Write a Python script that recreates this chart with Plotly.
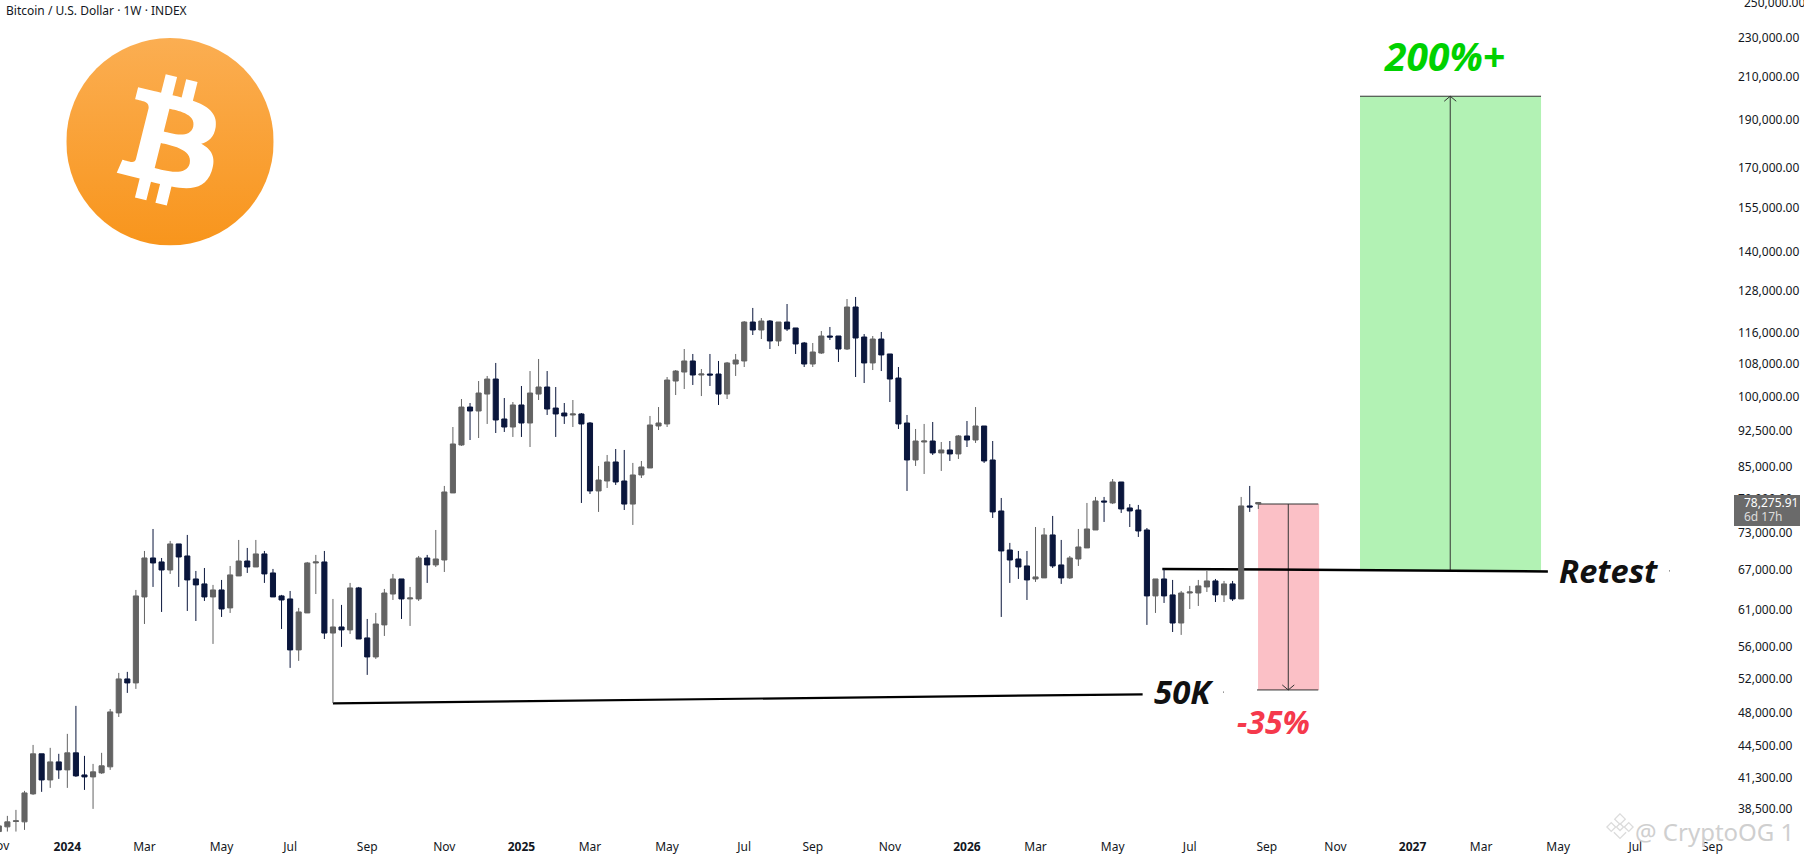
import base64
import numpy as np
import pandas as pd
import plotly.graph_objects as go

# weekly candles, first one is the week of 2023-11-06
first_week = pd.Timestamp("2023-11-06")

open_ = [36480, 36880, 37340, 37310, 39810, 43690, 41120, 42880, 42090, 43790,
         41600, 41410, 41800, 42390, 48040, 51980, 51500, 62870, 68820, 68190,
         66930, 71100, 69140, 65550, 64800, 62870, 63900, 61290, 66010, 68340,
         67400, 69470, 66470, 63020, 62580, 55600, 60580, 68030, 68190, 57820,
         58640, 58240, 64200, 57170, 54700, 58920, 63300, 65550, 62580, 62580,
         68820, 67720, 68500, 80030, 89450, 97680, 96790, 100670, 104240, 95010,
         93260, 98150, 94130, 100670, 102330, 97450, 96340, 95900, 96120, 94130,
         80400, 82280, 85990, 82280, 77990, 83440, 84800, 93480, 93920, 103760,
         105950, 108700, 105220, 105460, 105460, 100670, 107940, 108700, 118980, 116800,
         119260, 113860, 118980, 117350, 113330, 107940, 110730, 115180, 115180, 111760,
         123200, 114910, 108200, 114380, 110480, 104480, 94130, 86390, 90070, 90280,
         87810, 88420, 87610, 91340, 90490, 93480, 86390, 76750, 70110, 68660,
         67560, 65550, 65710, 72600, 67720, 65710, 68660, 70440, 73440, 78550,
         78190, 82090, 77290, 76930, 73440, 63020, 65550, 63170, 59180, 63450,
         63450, 64350, 65250, 63170, 64800, 62580, 77650, 78000]
high = [37000, 37830, 38360, 40090, 44600, 43690, 44300, 43690, 45760, 48830,
        43480, 42680, 43790, 48480, 52710, 52840, 63900, 69950, 73610, 68820,
        71600, 71100, 72600, 66780, 67240, 64650, 65400, 67560, 71760, 70440,
        71760, 69950, 67090, 63170, 63750, 61290, 68190, 69310, 69950, 62580,
        61720, 64950, 64350, 59740, 60580, 64050, 66320, 65550, 64350, 69140,
        69310, 73440, 81340, 93260, 99520, 98600, 103760, 104980, 108200, 99750,
        98830, 102570, 106190, 109200, 106190, 102330, 98600, 99290, 96340, 94350,
        85200, 87400, 88620, 88420, 85800, 86190, 95680, 97680, 104730, 106440,
        111760, 110480, 106690, 110480, 108700, 108450, 110480, 119260, 122930, 120090,
        119540, 118980, 124060, 117350, 113600, 113330, 116530, 117620, 115180, 125510,
        126100, 115710, 115180, 116260, 110480, 107190, 95900, 92830, 93920, 94350,
        90070, 90280, 91550, 94570, 97680, 93480, 90280, 79100, 71270, 69950,
        69950, 73950, 73780, 75870, 71760, 69140, 73610, 78190, 79290, 79290,
        82660, 82090, 77990, 77830, 73780, 65550, 67090, 65400, 63750, 64500,
        65400, 66780, 65550, 65250, 65250, 79290, 81340, 78280]
low = [36300, 36480, 36480, 36620, 39720, 40000, 40370, 41220, 40370, 41410,
       40180, 38450, 41700, 42090, 47590, 50320, 50790, 59050, 64350, 60720,
       66320, 64350, 60860, 59460, 62290, 56380, 60020, 60580, 66010, 66470,
       67400, 64950, 62870, 58370, 53330, 54200, 60580, 63300, 57030, 49160,
       55990, 57700, 57030, 52470, 54450, 57430, 62430, 59740, 58780, 62290,
       64950, 67400, 66620, 80030, 89250, 90490, 90910, 93920, 91970, 92190,
       91130, 91130, 89030, 99290, 95900, 91130, 93920, 93260, 78190, 79840,
       76580, 80960, 81530, 76930, 74300, 82850, 84800, 92610, 93260, 100440,
       101850, 102810, 100200, 102570, 98150, 99520, 104980, 107190, 115450, 114380,
       111760, 112520, 116530, 110480, 107190, 107190, 110480, 114120, 108450, 111500,
       104730, 103280, 106440, 106190, 98830, 92830, 80400, 85200, 83630, 87400,
       84220, 86190, 86590, 89030, 89870, 85800, 75520, 60020, 64950, 65550,
       62430, 65100, 65710, 67240, 64800, 65550, 67560, 70440, 73440, 74820,
       77990, 76400, 73950, 72260, 58920, 60580, 62000, 57960, 57570, 61140,
       61570, 63600, 62140, 62140, 62290, 62580, 76580, 77110]
close = [36960, 37310, 37400, 39900, 43690, 41120, 42880, 42090, 43790, 41510,
         41410, 41900, 42490, 48150, 51980, 51500, 63020, 68820, 68030, 66930,
         71100, 68980, 65400, 64650, 62870, 63900, 61140, 66170, 68340, 67400,
         69470, 66320, 62870, 62430, 55600, 60720, 68030, 68190, 57820, 58640,
         58240, 64200, 57030, 54700, 59050, 63450, 65550, 62580, 62720, 68820,
         67720, 68660, 80210, 89660, 97680, 96790, 100910, 104240, 94790, 93260,
         98150, 94130, 100910, 102330, 97230, 96120, 95680, 96120, 93920, 80400,
         82470, 85990, 82090, 77990, 83440, 85000, 93700, 94130, 104000, 106190,
         108700, 105220, 105460, 105220, 100670, 108200, 108950, 118980, 116800, 119260,
         113860, 118980, 117070, 113070, 107940, 110990, 115180, 114910, 111760, 123200,
         114650, 108200, 114380, 110230, 104240, 93920, 86390, 90280, 90280, 87810,
         88420, 87610, 91340, 90490, 93480, 86190, 76580, 69950, 68500, 67400,
         65400, 65860, 72600, 67560, 65710, 68820, 70600, 73610, 78550, 78370,
         82090, 77110, 76750, 73270, 63020, 65550, 63020, 59180, 63450, 63600,
         64500, 65250, 63170, 64800, 62580, 77650, 77470, 78275.91]

# 250,000 sits on the top edge, plotly drops it as a tick so it is an annotation below
top_price = 250000
price_ticks = [230000, 210000, 190000, 170000, 155000, 140000, 128000, 116000, 108000,
               100000, 92500, 85000, 79000, 73000, 67000, 61000, 56000, 52000, 48000,
               44500, 41300, 38500]
date_ticks = ["2024-01-01", "2024-03-04", "2024-05-06", "2024-07-01", "2024-09-02", "2024-11-04",
              "2025-01-06", "2025-03-03", "2025-05-05", "2025-07-07", "2025-09-01", "2025-11-03",
              "2026-01-05", "2026-03-02", "2026-05-04", "2026-07-06", "2026-09-07", "2026-11-02",
              "2027-01-04", "2027-03-01", "2027-05-03", "2027-07-05", "2027-09-06"]
date_labels = ["<b>2024</b>", "Mar", "May", "Jul", "Sep", "Nov",
               "<b>2025</b>", "Mar", "May", "Jul", "Sep", "Nov",
               "<b>2026</b>", "Mar", "May", "Jul", "Sep", "Nov",
               "<b>2027</b>", "Mar", "May", "Jul", "Sep"]

# drawn levels
drop_top, drop_bottom = 78000, 50670
gain_top, gain_bottom = 200900, 66810
retest_start, retest_end = 67100, 66700
low_line_start, low_line_end = 49120, 50160

UP = "#636363"
DOWN = "#0a163c"
INK = "#131722"
PLOT_W, PLOT_H = 1737, 836
WEEK_PX = 8.568


def week(n):
    # date n weeks after the first candle
    return first_week + pd.Timedelta(days=float(n) * 7)


def ly(price):
    # annotations on a log axis want the exponent
    return float(np.log10(price))


dates = [week(i) for i in range(len(open_))]

fig = go.Figure(go.Candlestick(
    x=dates, open=open_, high=high, low=low, close=close,
    increasing=dict(line=dict(color=UP, width=1), fillcolor=UP),
    decreasing=dict(line=dict(color=DOWN, width=1), fillcolor=DOWN),
    whiskerwidth=0, showlegend=False, hoverinfo="skip",
))

shapes = [
    # pink / green zones
    dict(type="rect", x0=week(146.97), x1=week(154.1), y0=drop_bottom, y1=drop_top,
         fillcolor="#fbc0c6", line_width=0),
    dict(type="rect", x0=week(158.87), x1=week(180.0), y0=gain_bottom, y1=gain_top,
         fillcolor="#b2f2b4", line_width=0),
    dict(type="line", x0=week(146.97), x1=week(154.0), y0=drop_top, y1=drop_top,
         line=dict(color="#333333", width=1)),
    dict(type="line", x0=week(146.85), x1=week(154.0), y0=drop_bottom, y1=drop_bottom,
         line=dict(color="#333333", width=1)),
    dict(type="line", x0=week(150.5), x1=week(150.5), y0=drop_bottom, y1=drop_top,
         line=dict(color="#333333", width=1)),
    dict(type="line", x0=week(158.87), x1=week(180.0), y0=gain_top, y1=gain_top,
         line=dict(color="#333333", width=1)),
    dict(type="line", x0=week(169.4), x1=week(169.4), y0=gain_bottom, y1=gain_top,
         line=dict(color="#333333", width=1)),
    # support lines
    dict(type="line", x0=week(135.8), x1=week(180.8), y0=retest_start, y1=retest_end,
         line=dict(color="#000000", width=2.5)),
    dict(type="line", x0=week(39), x1=week(133.5), y0=low_line_start, y1=low_line_end,
         line=dict(color="#000000", width=2.2)),
]
for s in shapes:
    s.update(layer="below")

# arrow heads
shapes.append(dict(type="path", xsizemode="pixel", ysizemode="pixel",
                   xanchor=week(150.5), yanchor=drop_bottom,
                   path="M -6 5 L 0 0 L 6 5", line=dict(color="#333333", width=1), layer="above"))
shapes.append(dict(type="path", xsizemode="pixel", ysizemode="pixel",
                   xanchor=week(169.4), yanchor=gain_top,
                   path="M -6 -5 L 0 0 L 6 -5", line=dict(color="#333333", width=1), layer="above"))

# last price tag
shapes.append(dict(type="rect", xref="paper", x0=1734 / PLOT_W, x1=1800 / PLOT_W,
                   y0=74120, y1=79640, fillcolor="#6a6a6a", line_width=0, layer="above"))

# two stray specks left over next to the labels
for speck_x, speck_price in [(1223, 50420), (1669, 66800)]:
    shapes.append(dict(type="rect", xref="paper", x0=speck_x / PLOT_W, x1=(speck_x + 1) / PLOT_W,
                       y0=speck_price * 0.9985, y1=speck_price * 1.0015,
                       fillcolor="#777777", line_width=0, layer="above"))

annotations = [
    dict(text=f"{top_price:,.2f}", xref="paper", x=1742 / PLOT_W, xanchor="left",
         y=ly(top_price), yanchor="middle", showarrow=False, font=dict(size=12, color=INK)),
    dict(text="Nov", xref="paper", x=-1.2 / PLOT_W, xanchor="center", yref="paper", y=0,
         yanchor="middle", yshift=-9.7, showarrow=False, font=dict(size=12, color=INK)),
    dict(text="Bitcoin / U.S. Dollar · 1W · INDEX", xref="paper", x=4 / PLOT_W, xanchor="left",
         yref="paper", y=1 - 10.7 / PLOT_H, yanchor="middle", showarrow=False,
         font=dict(size=12, color=INK)),
    dict(text="200%+", x=week(168.79), y=ly(221070), showarrow=False,
         font=dict(size=39, color="#00d100", weight=700, style="italic")),
    dict(text="50K", x=week(138.27), y=ly(50440), showarrow=False,
         font=dict(size=33, color="#111111", weight=700, style="italic")),
    dict(text="-35%", x=week(148.72), y=ly(47040), showarrow=False,
         font=dict(size=32, color="#f5394c", weight=700, style="italic")),
    dict(text="Retest", x=week(187.93), y=ly(66780), showarrow=False,
         font=dict(size=32.5, color="#111111", weight=700, style="italic")),
    dict(text="78,275.91", xref="paper", x=1742 / PLOT_W, xanchor="left", y=ly(78350), yanchor="middle",
         showarrow=False, font=dict(size=12, color="#ffffff")),
    dict(text="6d 17h", xref="paper", x=1742 / PLOT_W, xanchor="left", y=ly(75800), yanchor="middle",
         showarrow=False, font=dict(size=12, color="#dddddd")),
    dict(text="@ CryptoOG 1", xref="paper", x=1796 / PLOT_W, xanchor="right",
         yref="paper", y=1 - 831 / PLOT_H, yanchor="middle", showarrow=False,
         font=dict(size=24, color="#cfcfcf")),
]

# bitcoin logo, same path as the usual svg icon
logo_svg = (
    '<svg xmlns="http://www.w3.org/2000/svg" viewBox="0 0 64 64">'
    '<defs><linearGradient id="g" x1="0" y1="0" x2="0" y2="1">'
    '<stop offset="0" stop-color="#fbae52"/><stop offset="1" stop-color="#f8951c"/>'
    '</linearGradient></defs><circle cx="32" cy="32" r="32" fill="url(#g)"/>'
    '<path fill="#fff" d="M46.103 27.444c.637-4.258-2.605-6.547-7.038-8.074l1.438-5.768-3.511-.875-1.4 5.616'
    'c-.923-.23-1.871-.447-2.813-.662l1.41-5.653-3.509-.875-1.439 5.766c-.764-.174-1.514-.346-2.242-.527'
    'l.004-.018-4.842-1.209-.934 3.75s2.605.597 2.55.634c1.422.355 1.679 1.296 1.636 2.042l-1.638 6.571'
    'c.098.025.225.061.365.117l-.371-.092-2.296 9.205c-.174.432-.615 1.08-1.609.834.035.051-2.552-.637-2.552-.637'
    'l-1.743 4.019 4.569 1.139c.85.213 1.683.436 2.503.646l-1.453 5.834 3.507.875 1.439-5.772'
    'c.958.26 1.888.5 2.798.726l-1.434 5.745 3.511.875 1.453-5.823c5.987 1.133 10.489.676 12.384-4.739'
    ' 1.527-4.36-.076-6.875-3.226-8.515 2.294-.529 4.022-2.038 4.483-5.155z'
    'M38.08 38.693c-1.085 4.36-8.426 2.003-10.806 1.412l1.928-7.729c2.38.594 10.012 1.77 8.878 6.317z'
    'm1.086-11.312c-.99 3.966-7.1 1.951-9.082 1.457l1.748-7.01c1.982.494 8.365 1.416 7.334 5.553z"/></svg>'
)
# watermark diamond next to the handle
mark_svg = (
    '<svg xmlns="http://www.w3.org/2000/svg" viewBox="0 0 32 32" fill="none" stroke="#dcdcdc" stroke-width="1.6">'
    '<path d="M16 1 L22 7 L16 13 L10 7 Z"/><path d="M6 11 L11 16 L6 21 L1 16 Z"/>'
    '<path d="M26 11 L31 16 L26 21 L21 16 Z"/><path d="M16 12 L20 16 L16 20 L12 16 Z"/>'
    '<path d="M9 22 L16 29 L23 22"/></svg>'
)


def svg_uri(svg):
    return "data:image/svg+xml;base64," + base64.b64encode(svg.encode()).decode()


images = [
    dict(source=svg_uri(logo_svg), xref="paper", yref="paper",
         x=66.3 / PLOT_W, y=1 - 38 / PLOT_H, sizex=207.4 / PLOT_W, sizey=207.4 / PLOT_H,
         xanchor="left", yanchor="top", sizing="stretch", layer="above"),
    dict(source=svg_uri(mark_svg), xref="paper", yref="paper",
         x=1606 / PLOT_W, y=1 - 813 / PLOT_H, sizex=28 / PLOT_W, sizey=28 / PLOT_H,
         xanchor="left", yanchor="top", sizing="stretch", layer="above"),
]

fig.update_layout(
    width=1804, height=856,
    margin=dict(l=0, r=1804 - PLOT_W, t=0, b=856 - PLOT_H, autoexpand=False),
    paper_bgcolor="#ffffff", plot_bgcolor="#ffffff",
    font=dict(family="Noto Sans", color=INK, size=12),
    boxgap=0.15,
    shapes=shapes, annotations=annotations, images=images,
    xaxis=dict(
        range=[week(1.2 / WEEK_PX), week((PLOT_W + 1.2) / WEEK_PX)],
        rangeslider=dict(visible=False),
        showgrid=False, zeroline=False, showline=False, ticks="",
        tickmode="array", tickvals=date_ticks, ticktext=date_labels,
        tickangle=0, tickfont=dict(size=12, color=INK), ticklabelstandoff=2,
    ),
    yaxis=dict(
        type="log", side="right",
        range=[4.55757, 5.39996],
        showgrid=False, zeroline=False, showline=False, ticks="",
        tickmode="array", tickvals=price_ticks,
        ticktext=[f"{v:,.2f}" for v in price_ticks],
        tickfont=dict(size=12, color=INK),
    ),
)

fig.write_html("out.html", config={"displayModeBar": False},
               post_script="document.body.style.margin='0';")
